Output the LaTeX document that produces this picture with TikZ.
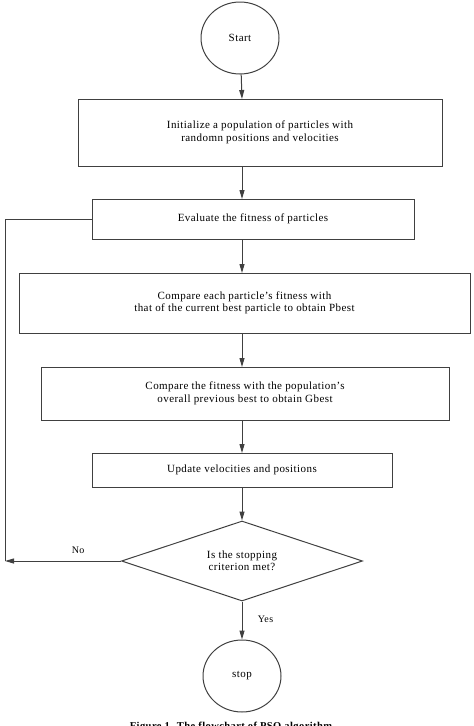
\documentclass[tikz,border=0pt]{standalone}
\usepackage{fontspec}
\setmainfont{Liberation Serif}[LetterSpace=4]
\usetikzlibrary{shapes.geometric, arrows.meta}

\begin{document}
\begin{tikzpicture}[x=1pt, y=-1pt, line width=1pt,
        box/.style={draw=black!75, rectangle, align=center, font=\fontsize{11}{12.5}\selectfont, inner sep=0pt},
        term/.style={draw=black!75, ellipse, minimum width=78pt, minimum height=72pt, font=\fontsize{11}{12.5}\selectfont},
        decision/.style={draw=black!75, diamond, aspect=3, align=center, minimum width=241pt, minimum height=80pt, inner sep=0pt, font=\fontsize{11}{12.5}\selectfont},
        flow/.style={draw=black!75, -{Triangle[length=9pt, width=5pt]}}]
        \useasboundingbox (0, 0) rectangle (474, 726);

        \node[term] (start) at (240, 38) {Start};
        \node[box, minimum width=364pt, minimum height=67pt] (init) at (260, 132.5) {Initialize a population of particles with\\randomn positions and velocities};
        \node[box, minimum width=322pt, minimum height=40pt] (eval) at (253, 219) {Evaluate the fitness of particles};
        \node[box, minimum width=451pt, minimum height=60pt] (pbest) at (244.5, 303) {Compare each particle's fitness with\\that of the current best particle to obtain Pbest};
        \node[box, minimum width=408pt, minimum height=53pt] (gbest) at (245, 393.5) {Compare the fitness with the population's\\overall previous best to obtain Gbest};
        \node[box, minimum width=300pt, minimum height=34pt] (update) at (242, 470) {Update velocities and positions};
        \node[decision] (check) at (242, 561) {Is the stopping\\criterion met?};
        \node[term] (stop) at (242, 676) {stop};
        \coordinate (back) at (5, 561);

        \draw[flow] (start) -- (242, 99);
        \draw[flow] (242, 166) -- (242, 199);
        \draw[flow] (242, 239) -- (242, 273);
        \draw[flow] (242, 333) -- (242, 367);
        \draw[flow] (242, 420) -- (242, 453);
        \draw[flow] (update) -- (check);
        \draw[flow] (check) -- (stop) node[midway, right, xshift=12pt, yshift=1pt] {Yes};
        \draw[flow] (check.west) -- (back) node[pos=0.37, above, yshift=4pt] {No};
        \draw[draw=black!75] (eval.west) -| (back);

        \node[anchor=base, font=\bfseries\fontsize{10.5}{12}\selectfont] (caption) at (231, 729) {Figure 1. The flowchart of PSO algorithm};
    \end{tikzpicture}
\end{document}
